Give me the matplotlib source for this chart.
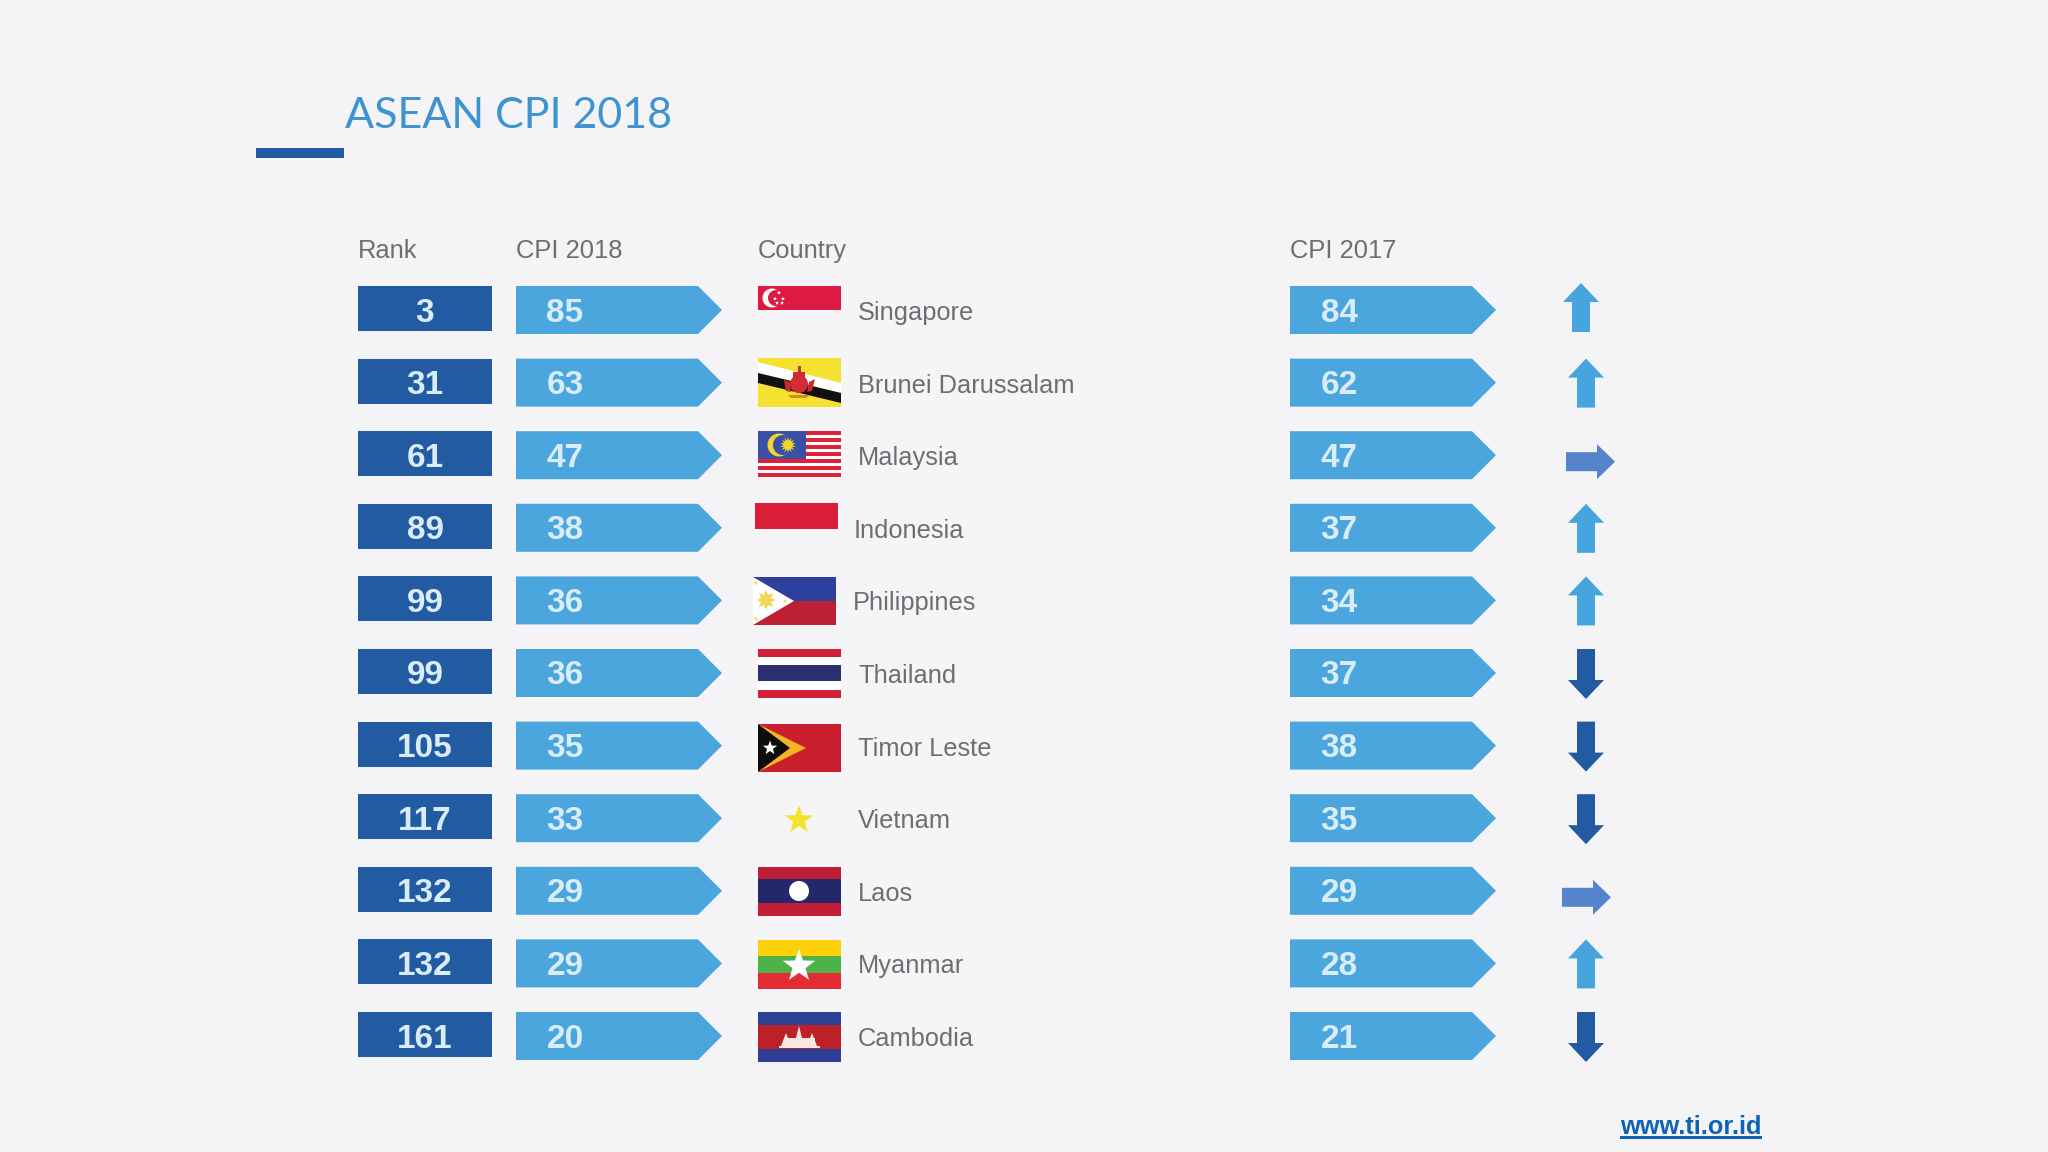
import numpy as np
from matplotlib import pyplot as plt
from matplotlib.patches import Rectangle, Polygon, Circle

ranks = [3, 31, 61, 89, 99, 99, 105, 117, 132, 132, 161]
cpi_2018 = [85, 63, 47, 38, 36, 36, 35, 33, 29, 29, 20]
cpi_2017 = [84, 62, 47, 37, 34, 37, 38, 35, 29, 28, 21]
countries = ['Singapore', 'Brunei Darussalam', 'Malaysia', 'Indonesia', 'Philippines',
             'Thailand', 'Timor Leste', 'Vietnam', 'Laos', 'Myanmar', 'Cambodia']

BG = '#f4f4f6'
DARK = '#235ba3'
LIGHT = '#4aa6dc'
NUM = '#d8ecf9'
GREY = '#6d6e71'
ROW0 = 286
PITCH = 72.6

fig = plt.figure(figsize=(20.48, 11.52), dpi=100, facecolor=BG)
ax = fig.add_axes([0, 0, 1, 1])
ax.set_xlim(0, 2048)
ax.set_ylim(1152, 0)
ax.axis('off')


def rect(x, y, w, h, c, z=3):
    ax.add_patch(Rectangle((x, y), w, h, fc=c, ec='none', zorder=z))


def poly(pts, c, z=3):
    ax.add_patch(Polygon(pts, closed=True, fc=c, ec='none', zorder=z))


def star(cx, cy, r, c, z=4, n=5, inner=0.4):
    ang = -np.pi / 2 + np.arange(2 * n) * np.pi / n
    rad = np.where(np.arange(2 * n) % 2 == 0, r, r * inner)
    poly(np.column_stack([cx + rad * np.cos(ang), cy + rad * np.sin(ang)]), c, z)


def circle(cx, cy, r, c, z=4):
    ax.add_patch(Circle((cx, cy), r, fc=c, ec='none', zorder=z))


def chevron(x, y, c):
    poly([(x, y), (x + 182, y), (x + 206, y + 24), (x + 182, y + 48), (x, y + 48)], c)


def arrow(x, y, d):
    if d > 0:
        poly([(x, y), (x + 18, y + 19), (x + 9, y + 19), (x + 9, y + 49),
              (x - 9, y + 49), (x - 9, y + 19), (x - 18, y + 19)], '#45a5dc')
    elif d < 0:
        poly([(x, y + 50), (x + 18, y + 31), (x + 9, y + 31), (x + 9, y),
              (x - 9, y), (x - 9, y + 31), (x - 18, y + 31)], DARK)
    else:
        poly([(x, y + 8), (x + 31, y + 8), (x + 31, y), (x + 49, y + 17.5), (x + 31, y + 35),
              (x + 31, y + 27), (x, y + 27)], '#5584cd')


def singapore(x, y):
    rect(x, y, 83, 24, '#dc1a43')
    circle(x + 14, y + 12, 9.5, 'white')
    circle(x + 18, y + 12, 8, '#dc1a43', 5)
    for dx, dy in [(21, 6.7), (17, 12.7), (25, 12.7), (19, 17), (24, 17)]:
        star(x + dx, y + dy, 2.2, 'white', 6)


def brunei(x, y):
    rect(x, y, 83, 49, '#f5e12f')
    poly([(x, y + 4), (x + 83, y + 25), (x + 83, y + 35), (x, y + 15)], 'white', 4)
    poly([(x, y + 15), (x + 83, y + 35), (x + 83, y + 45), (x, y + 25)], '#111111', 4)
    circle(x + 41, y + 26, 9, '#d52b35', 5)
    rect(x + 35, y + 14, 12, 6, '#c92c2c', 5)
    rect(x + 40, y + 8, 2.5, 7, '#c92c2c', 5)
    poly([(x + 26, y + 22), (x + 32, y + 24), (x + 33, y + 34), (x + 28, y + 33)], '#c92c2c', 5)
    poly([(x + 51, y + 24), (x + 57, y + 21), (x + 54, y + 33), (x + 49, y + 34)], '#c92c2c', 5)
    poly([(x + 30, y + 37), (x + 52, y + 37), (x + 48, y + 40), (x + 33, y + 40)], '#d68a22', 5)


def malaysia(x, y):
    rect(x, y, 83, 46, 'white')
    for i in range(7):
        rect(x, y + i * 7, 83, 3.8, '#dc2139', 4)
    rect(x, y, 48, 28, '#3a50a7', 5)
    circle(x + 21, y + 14, 11.5, '#f3d52f', 6)
    circle(x + 25, y + 14, 10, '#3a50a7', 7)
    star(x + 30, y + 14, 8, '#f3d52f', 8, n=14, inner=0.55)


def indonesia(x, y):
    rect(x, y, 83, 26, '#dc1f38')


def philippines(x, y):
    rect(x, y, 83, 24, '#2e3f9c')
    rect(x, y + 24, 83, 24, '#bd2032')
    poly([(x, y), (x + 41, y + 24), (x, y + 48)], 'white', 4)
    star(x + 13, y + 23, 10, '#f5d65a', 5, n=8, inner=0.55)
    for dx, dy in [(3, 6), (3, 42), (32, 24)]:
        star(x + dx, y + dy, 2.5, '#f5d65a', 5)


def thailand(x, y):
    rect(x, y, 83, 49, 'white')
    rect(x, y, 83, 8, '#d0203a', 4)
    rect(x, y + 16, 83, 16, '#2d2f73', 4)
    rect(x, y + 41, 83, 8, '#d0203a', 4)


def timor(x, y):
    rect(x, y, 83, 48, '#ca1f2e')
    poly([(x, y), (x + 48, y + 24), (x, y + 48)], '#f3b61f', 4)
    poly([(x, y), (x + 32, y + 24), (x, y + 48)], '#0c0c0c', 5)
    star(x + 12, y + 24, 7.5, 'white', 6)


def vietnam(x, y):
    star(x + 41, y + 24, 15, '#f5e22f', 4)


def laos(x, y):
    rect(x, y, 83, 49, '#bf1e36')
    rect(x, y + 12, 83, 24, '#24286b', 4)
    circle(x + 41, y + 24, 10, 'white', 5)


def myanmar(x, y):
    rect(x, y, 83, 16.3, '#fdd007')
    rect(x, y + 16.3, 83, 16.3, '#4db348')
    rect(x, y + 32.6, 83, 16.4, '#e52c35')
    star(x + 41, y + 26, 17, 'white', 5)


def cambodia(x, y):
    rect(x, y, 83, 50, '#2e3f96')
    rect(x, y + 13, 83, 24, '#bd2029', 4)
    rect(x + 21, y + 34, 41, 2, '#f7e8e4', 5)
    rect(x + 26, y + 26, 31, 8, '#f7e8e4', 5)
    for dx, h in [(28, 13), (41, 20), (54, 13)]:
        poly([(x + dx - 5, y + 34), (x + dx, y + 34 - h), (x + dx + 5, y + 34)], '#f7e8e4', 5)


flags = [singapore, brunei, malaysia, indonesia, philippines, thailand, timor, vietnam, laos,
         myanmar, cambodia]
flag_x = [758, 758, 758, 755, 753, 758, 758, 758, 758, 758, 758]
flag_y = [286, 358, 431, 503, 577, 649, 724, 796, 867, 940, 1012]
name_x = [858, 858, 858, 854, 853, 858, 858, 858, 858, 858, 858]
up_x = [1581, 1586, 1566, 1586, 1586, 1586, 1586, 1586, 1562, 1586, 1586]
up_dy = [-3, 0, 13, 0, 0, 0, 0, 0, 13, 0, 0]

sans = 'Liberation Sans'
ax.text(345, 116, 'ASEAN CPI 2018', fontsize=31, family='Lato', color='#3d94d0',
        va='center', ha='left')
rect(256, 148, 88, 9.5, DARK)

for x, s in [(358, 'Rank'), (516, 'CPI 2018'), (758, 'Country'), (1290, 'CPI 2017')]:
    ax.text(x, 251, s, fontsize=18.4, family=sans, color=GREY, va='center', ha='left')

for i in range(len(ranks)):
    top = ROW0 + PITCH * i
    rect(740, top - 2, 500, 52, '#f5f5f7', 1)
    rect(358, top, 134, 45, DARK)
    chevron(516, top, LIGHT)
    chevron(1290, top, LIGHT)
    ax.text(425, top + 27, str(ranks[i]), fontsize=24, family=sans, weight='bold', color=NUM,
            ha='center', va='center', zorder=6)
    ax.text(565, top + 27, str(cpi_2018[i]), fontsize=24, family=sans, weight='bold', color=NUM,
            ha='center', va='center', zorder=6)
    ax.text(1339, top + 27, str(cpi_2017[i]), fontsize=24, family=sans, weight='bold', color=NUM,
            ha='center', va='center', zorder=6)
    flags[i](flag_x[i], flag_y[i])
    ax.text(name_x[i], top + 27, countries[i], fontsize=18.3, family=sans, color=GREY,
            ha='left', va='center', zorder=6)
    arrow(up_x[i], top + up_dy[i], cpi_2018[i] - cpi_2017[i])

ax.text(1620, 1127, 'www.ti.or.id', fontsize=18.3, family=sans, weight='bold', color='#0f62b5',
        ha='left', va='center')
rect(1620, 1136, 142, 2.5, '#0f62b5')

fig.savefig('out.png', dpi=100, facecolor=BG)
